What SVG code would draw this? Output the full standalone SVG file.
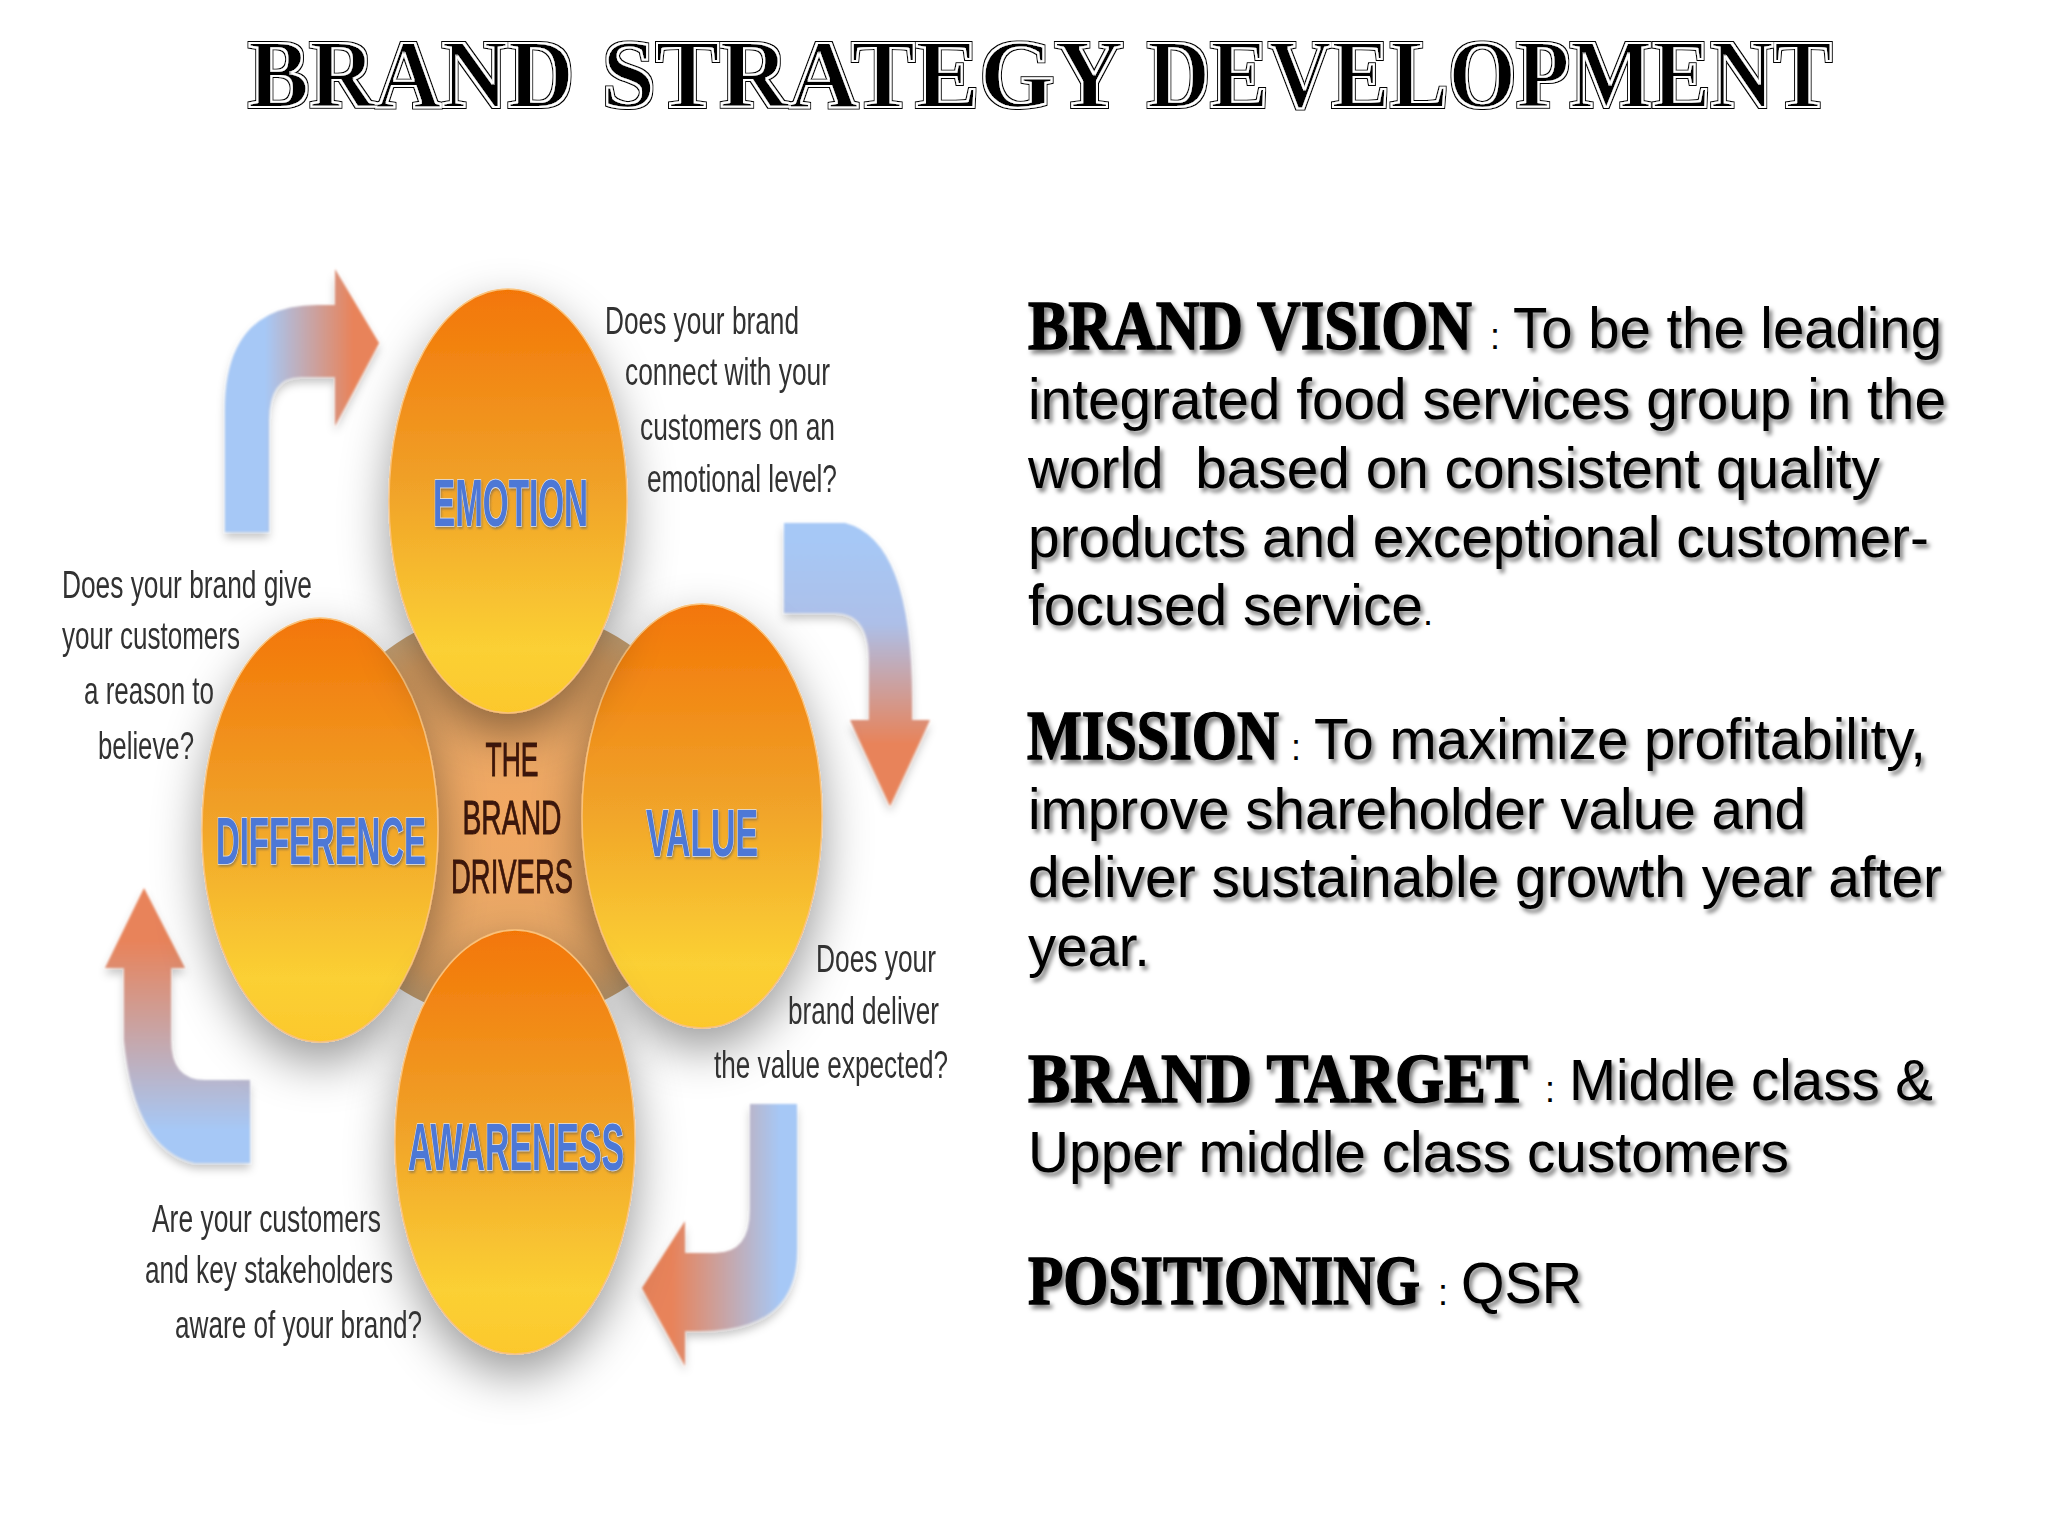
<svg xmlns="http://www.w3.org/2000/svg" width="2048" height="1536" viewBox="0 0 2048 1536">
<style>
.lb{font-family:"Liberation Sans",Arial,sans-serif;font-size:39px;fill:#303030;filter:url(#soft)}
.nd{font-family:"Liberation Sans",Arial,sans-serif;font-weight:bold;font-size:66px;fill:#4d78d6;stroke:#dfe3ee;stroke-width:1.6px;paint-order:stroke;filter:url(#ndsh)}
.ct{font-family:"Liberation Sans",Arial,sans-serif;font-size:48px;fill:#3a1408;stroke:#3a1408;stroke-width:.9px;text-anchor:middle;filter:url(#soft)}
.bd{font-family:"Liberation Sans",Arial,sans-serif;font-size:58px;fill:#000;filter:url(#tsh)}
.hd{font-family:"Liberation Serif","Times New Roman",serif;font-weight:bold;font-size:70px;fill:#000;stroke:#000;stroke-width:1.5px;filter:url(#tsh)}
.cl{font-family:"Liberation Sans",Arial,sans-serif;font-size:36px;fill:#000}
.ti{font-family:"Liberation Serif","Times New Roman",serif;font-weight:bold;font-size:98px;fill:#000;filter:url(#ring)}
.ball{filter:url(#ballsh);stroke:#f9c27c;stroke-width:1.5px}
.arr{filter:url(#arsh)}
</style>
<defs>
<linearGradient id="ball" x1="0" y1="0" x2="0" y2="1">
<stop offset="0" stop-color="#f37606"/><stop offset=".45" stop-color="#f0a028"/><stop offset=".85" stop-color="#fbd034"/><stop offset="1" stop-color="#fcc82c"/>
</linearGradient>
<radialGradient id="core"><stop offset="0" stop-color="#f2a862"/><stop offset=".85" stop-color="#e3a768"/><stop offset="1" stop-color="#cfa878"/></radialGradient>
<linearGradient id="a1" gradientUnits="userSpaceOnUse" x1="265" y1="0" x2="375" y2="0"><stop offset="0" stop-color="#a6c8f6"/><stop offset=".8" stop-color="#e8835a"/></linearGradient>
<linearGradient id="a2" gradientUnits="userSpaceOnUse" x1="0" y1="540" x2="0" y2="780"><stop offset="0" stop-color="#a6c8f6"/><stop offset=".35" stop-color="#adbfe8"/><stop offset=".85" stop-color="#e8835a"/></linearGradient>
<linearGradient id="a3" gradientUnits="userSpaceOnUse" x1="660" y1="0" x2="780" y2="0"><stop offset=".1" stop-color="#e8835a"/><stop offset="1" stop-color="#a6c8f6"/></linearGradient>
<linearGradient id="a4" gradientUnits="userSpaceOnUse" x1="0" y1="920" x2="0" y2="1130"><stop offset=".1" stop-color="#e8835a"/><stop offset="1" stop-color="#a6c8f6"/></linearGradient>
<filter id="ballsh" x="-60%" y="-30%" width="220%" height="175%"><feDropShadow dx="0" dy="20" stdDeviation="24" flood-color="#000" flood-opacity=".4"/></filter>
<filter id="arsh" x="-30%" y="-30%" width="160%" height="160%"><feGaussianBlur stdDeviation="1"/><feDropShadow dx="0" dy="6" stdDeviation="4" flood-color="#000" flood-opacity=".22"/></filter>
<filter id="soft" x="-5%" y="-20%" width="110%" height="140%"><feGaussianBlur stdDeviation=".7"/></filter>
<filter id="ndsh" x="-10%" y="-20%" width="120%" height="150%"><feGaussianBlur stdDeviation=".6"/><feDropShadow dx="1" dy="2" stdDeviation="1" flood-color="#555" flood-opacity=".5"/></filter>
<filter id="tsh" x="-5%" y="-20%" width="110%" height="150%"><feDropShadow dx="3" dy="4" stdDeviation="2" flood-color="#000" flood-opacity=".5"/></filter>
<filter id="ring" x="-2%" y="-10%" width="104%" height="120%">
<feMorphology in="SourceAlpha" operator="dilate" radius="1" result="w"/>
<feFlood flood-color="#fff"/><feComposite in2="w" operator="in" result="wh"/>
<feMorphology in="SourceAlpha" operator="dilate" radius="2.4" result="b"/>
<feFlood flood-color="#000"/><feComposite in2="b" operator="in" result="bl"/>
<feMorphology in="SourceAlpha" operator="erode" radius="1" result="c"/>
<feFlood flood-color="#000"/><feComposite in2="c" operator="in" result="co"/>
<feMerge><feMergeNode in="bl"/><feMergeNode in="wh"/><feMergeNode in="co"/></feMerge>
</filter>
</defs>
<rect width="2048" height="1536" fill="#fff"/>
<text id="title" class="ti" y="107"><tspan x="248" textLength="326" lengthAdjust="spacingAndGlyphs">BRAND</tspan> <tspan x="602" textLength="518" lengthAdjust="spacingAndGlyphs">STRATEGY</tspan> <tspan x="1147" textLength="685" lengthAdjust="spacingAndGlyphs">DEVELOPMENT</tspan></text>

<g id="connectors">
<path class="arr" fill="url(#a1)" d="M225,532 L225,410 Q225,305 317,305 L335,305 L335,269 L379,343 L335,426 L335,377 L300,377 Q269,377 269,420 L269,532 Z"/>
<path class="arr" fill="url(#a2)" d="M784,523 L845,523 Q912,540 912,700 L912,720 L930,720 L890,806 L850,720 L869,720 L869,660 Q869,613 835,613 L784,613 Z"/>
<path class="arr" fill="url(#a3)" d="M750,1104 L797,1104 L797,1250 Q797,1331 700,1331 L685,1331 L685,1366 L642,1288 L685,1221 L685,1253 L715,1253 Q750,1253 750,1210 Z"/>
<path class="arr" fill="url(#a4)" d="M144,888 L185,968 L171,968 L171,1040 Q171,1080 205,1080 L250,1080 L250,1163 L195,1163 Q135,1150 124,1040 L124,968 L105,968 Z"/>
</g>

<g id="node-core">
<circle cx="512" cy="815" r="207" fill="url(#core)"/>
</g>
<g id="node-value">
<ellipse class="ball" cx="702" cy="816" rx="120" ry="212" fill="url(#ball)"/>
<text class="nd" x="646" y="856" textLength="112" lengthAdjust="spacingAndGlyphs">VALUE</text>
</g>
<g id="node-difference">
<ellipse class="ball" cx="320" cy="830" rx="118" ry="212" fill="url(#ball)"/>
<text class="nd" x="216" y="864" textLength="210" lengthAdjust="spacingAndGlyphs">DIFFERENCE</text>
</g>
<g id="node-emotion">
<ellipse class="ball" cx="508" cy="501" rx="119" ry="212" fill="url(#ball)"/>
<text class="nd" x="433" y="526" textLength="155" lengthAdjust="spacingAndGlyphs">EMOTION</text>
</g>
<g id="node-core-label">
<text class="ct" x="512" y="776" textLength="53" lengthAdjust="spacingAndGlyphs">THE</text>
<text class="ct" x="512" y="834" textLength="99" lengthAdjust="spacingAndGlyphs">BRAND</text>
<text class="ct" x="512" y="893" textLength="122" lengthAdjust="spacingAndGlyphs">DRIVERS</text>
</g>
<g id="node-awareness">
<ellipse class="ball" cx="515" cy="1142" rx="120" ry="212" fill="url(#ball)"/>
<text class="nd" x="408" y="1170" textLength="216" lengthAdjust="spacingAndGlyphs">AWARENESS</text>
</g>

<g id="questions">
<text class="lb" x="605" y="334" textLength="194" lengthAdjust="spacingAndGlyphs">Does your brand</text>
<text class="lb" x="625" y="385" textLength="205" lengthAdjust="spacingAndGlyphs">connect with your</text>
<text class="lb" x="640" y="440" textLength="195" lengthAdjust="spacingAndGlyphs">customers on an</text>
<text class="lb" x="647" y="492" textLength="190" lengthAdjust="spacingAndGlyphs">emotional level?</text>
<text class="lb" x="62" y="598" textLength="250" lengthAdjust="spacingAndGlyphs">Does your brand give</text>
<text class="lb" x="62" y="649" textLength="178" lengthAdjust="spacingAndGlyphs">your customers</text>
<text class="lb" x="84" y="704" textLength="130" lengthAdjust="spacingAndGlyphs">a reason to</text>
<text class="lb" x="98" y="759" textLength="96" lengthAdjust="spacingAndGlyphs">believe?</text>
<text class="lb" x="816" y="972" textLength="120" lengthAdjust="spacingAndGlyphs">Does your</text>
<text class="lb" x="788" y="1024" textLength="151" lengthAdjust="spacingAndGlyphs">brand deliver</text>
<text class="lb" x="714" y="1078" textLength="234" lengthAdjust="spacingAndGlyphs">the value expected?</text>
<text class="lb" x="152" y="1232" textLength="229" lengthAdjust="spacingAndGlyphs">Are your customers</text>
<text class="lb" x="145" y="1283" textLength="248" lengthAdjust="spacingAndGlyphs">and key stakeholders</text>
<text class="lb" x="175" y="1338" textLength="247" lengthAdjust="spacingAndGlyphs">aware of your brand?</text>
</g>

<g id="brand-vision">
<text class="hd" x="1028" y="349" textLength="444" lengthAdjust="spacingAndGlyphs">BRAND VISION</text>
<text class="cl" x="1490" y="349">:</text>
<text class="bd" x="1513" y="348" textLength="429" lengthAdjust="spacingAndGlyphs">To be the leading</text>
<text class="bd" x="1028" y="419" textLength="918" lengthAdjust="spacingAndGlyphs">integrated food services group in the</text>
<text class="bd" x="1028" y="488" textLength="852" lengthAdjust="spacingAndGlyphs" xml:space="preserve">world  based on consistent quality</text>
<text class="bd" x="1028" y="557" textLength="901" lengthAdjust="spacingAndGlyphs">products and exceptional customer-</text>
<text class="bd" x="1028" y="625" textLength="395" lengthAdjust="spacingAndGlyphs">focused service</text>
<text class="cl" x="1423" y="625">.</text>
</g>
<g id="mission">
<text class="hd" x="1027" y="759" textLength="252" lengthAdjust="spacingAndGlyphs">MISSION</text>
<text class="cl" x="1291" y="760">:</text>
<text class="bd" x="1314" y="759" textLength="612" lengthAdjust="spacingAndGlyphs">To maximize profitability,</text>
<text class="bd" x="1028" y="829" textLength="778" lengthAdjust="spacingAndGlyphs">improve shareholder value and</text>
<text class="bd" x="1028" y="897" textLength="914" lengthAdjust="spacingAndGlyphs">deliver sustainable growth year after</text>
<text class="bd" x="1028" y="966" textLength="122" lengthAdjust="spacingAndGlyphs">year.</text>
</g>
<g id="brand-target">
<text class="hd" x="1028" y="1102" textLength="500" lengthAdjust="spacingAndGlyphs">BRAND TARGET</text>
<text class="cl" x="1545" y="1102">:</text>
<text class="bd" x="1569" y="1100" textLength="364" lengthAdjust="spacingAndGlyphs">Middle class &amp;</text>
<text class="bd" x="1028" y="1172" textLength="761" lengthAdjust="spacingAndGlyphs">Upper middle class customers</text>
</g>
<g id="positioning">
<text class="hd" x="1028" y="1304" textLength="392" lengthAdjust="spacingAndGlyphs">POSITIONING</text>
<text class="cl" x="1438" y="1305">:</text>
<text class="bd" x="1461" y="1303" textLength="121" lengthAdjust="spacingAndGlyphs">QSR</text>
</g>
</svg>
